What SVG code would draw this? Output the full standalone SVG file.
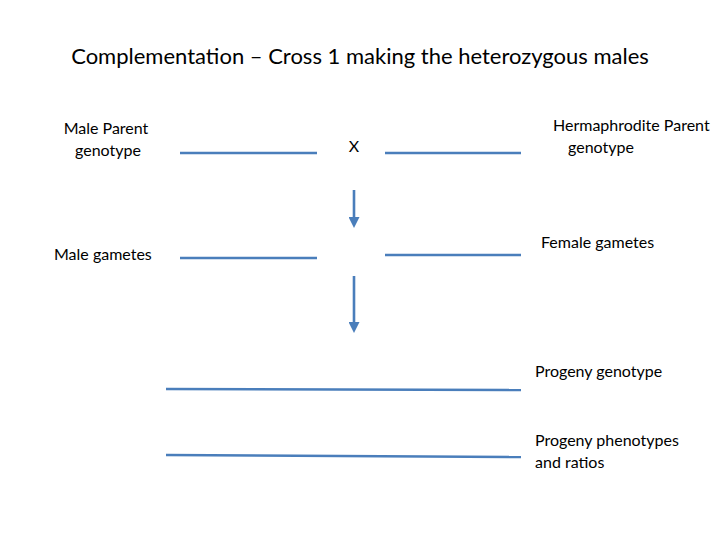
<svg xmlns="http://www.w3.org/2000/svg" width="720" height="540" viewBox="0 0 720 540">
<style>
text{font-family:Lato,"Open Sans","Liberation Sans",sans-serif;fill:#000}
.l{font-size:16px}
.ln{stroke:#4a7ebb;stroke-width:2.6;fill:none}
</style>
<defs><marker id="ah" markerWidth="11" markerHeight="11" refX="5" refY="5.5" orient="auto" markerUnits="userSpaceOnUse"><path d="M0,0 L11,5.5 L0,11 z" fill="#4a7ebb"/></marker></defs>
<rect width="720" height="540" fill="#fff"/>
<text x="360" y="64" text-anchor="middle" font-size="22">Complementation – Cross 1 making the heterozygous males</text>
<g id="male-parent"><text class="l" x="106" y="134" text-anchor="middle">Male Parent</text><text class="l" x="108" y="156" text-anchor="middle">genotype</text></g>
<g id="cross"><text class="l" x="354" y="152" text-anchor="middle">X</text></g>
<g id="herm-parent"><text class="l" x="553" y="131">Hermaphrodite Parent</text><text class="l" x="568" y="153">genotype</text></g>
<g id="male-gametes"><text class="l" x="54" y="260">Male gametes</text></g>
<g id="female-gametes"><text class="l" x="541" y="248">Female gametes</text></g>
<g id="progeny-genotype"><text class="l" x="535" y="377">Progeny genotype</text></g>
<g id="progeny-phenotypes"><text class="l" x="535" y="446">Progeny phenotypes</text><text class="l" x="535" y="468">and ratios</text></g>
<g id="connectors">
<line class="ln" x1="180" y1="153" x2="317" y2="153"/>
<line class="ln" x1="385" y1="153" x2="521" y2="153"/>
<line class="ln" x1="180" y1="258" x2="317" y2="258"/>
<line class="ln" x1="385" y1="255" x2="521" y2="255"/>
<line class="ln" x1="166" y1="389" x2="521" y2="390"/>
<line class="ln" x1="166" y1="455" x2="521" y2="457"/>
<line class="ln" x1="354" y1="190" x2="354" y2="222" marker-end="url(#ah)"/>
<line class="ln" x1="354" y1="276" x2="354" y2="327" marker-end="url(#ah)"/>
</g>
</svg>
